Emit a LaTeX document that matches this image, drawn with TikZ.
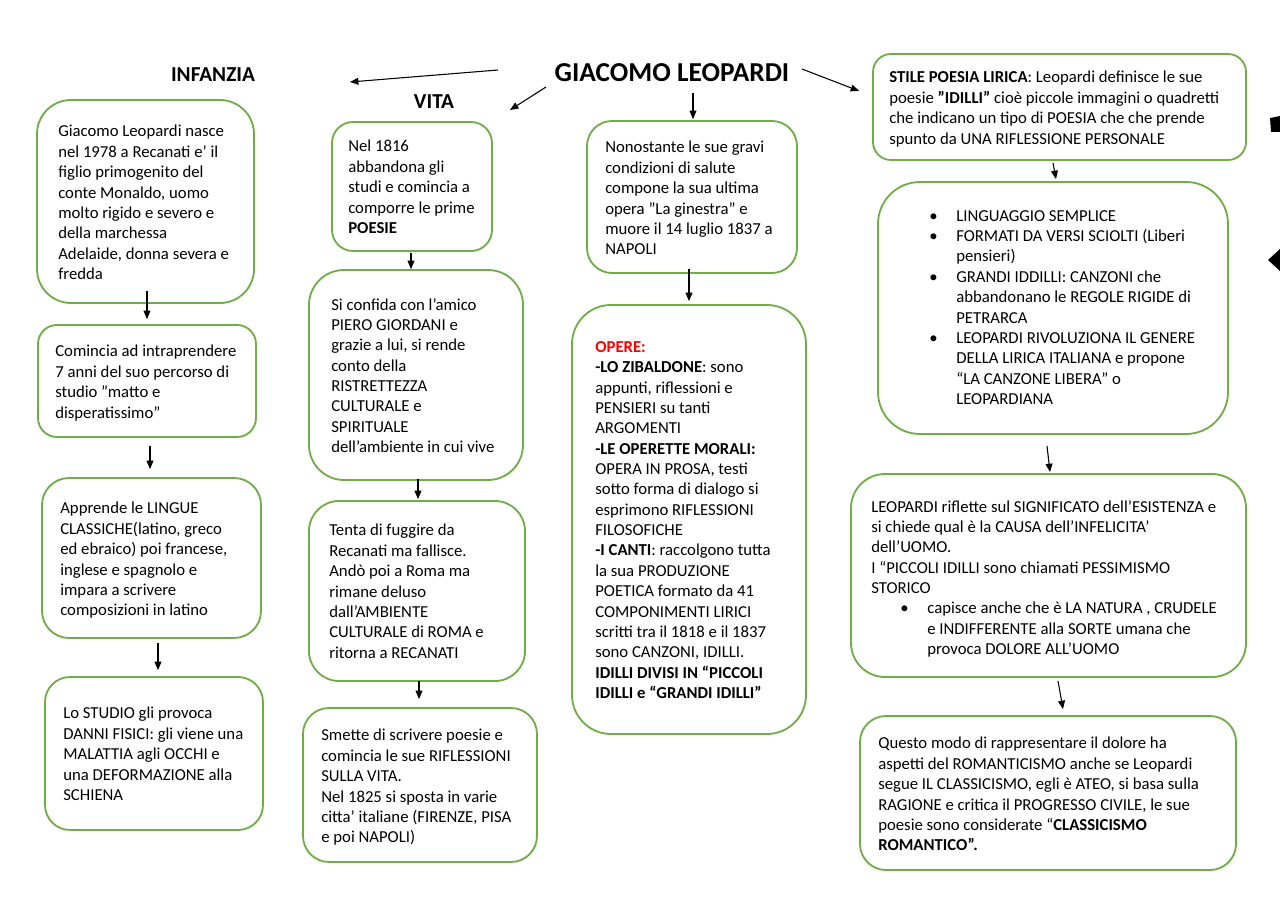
\documentclass[tikz,border=0pt]{standalone}
\usepackage{fontspec}
\setmainfont{Carlito}
\usetikzlibrary{calc,arrows.meta}
\newdimen\px \px=0.65781pt
\definecolor{gframe}{HTML}{70AD47}
\newcommand\gbox[6]{\node[box, minimum width={(#4-#2)*\px}, minimum height={(#5-#3)*\px}, rounded corners={#6*\px}] (#1) at ({(#2+#4)/2},{(#3+#5)/2}) {};}
\newcommand\bul{\makebox[27\px][l]{•}}
\newcommand\ind{\hspace*{27\px}}
\tikzset{
  box/.style={draw=gframe, line width=1.2pt, inner sep=0pt},
  txt/.style={anchor=north west, inner sep=0pt, align=left, font=\fontsize{11}{13.4}\selectfont},
  ttl/.style={font=\bfseries\fontsize{14}{16}\selectfont, inner sep=0pt},
  arr/.style={-{Triangle[length=5.5pt,width=4.5pt]}, line width=0.7pt, black},
}
\begin{document}
\begin{tikzpicture}[x=0.65781pt, y=-0.65781pt]
\fill[white] (0,0) rectangle (1280,905);
\useasboundingbox (0,0) rectangle (1280,905);

% titles
\node[font=\bfseries\fontsize{18}{21}\selectfont, inner sep=0pt] (tit) at (672,73) {GIACOMO LEOPARDI};
\node[ttl] (inf) at (213,75) {INFANZIA};
\node[ttl] (vita) at (434,102) {VITA};

% boxes
\gbox{b1}{37}{100}{254}{303}{34}
\gbox{b2}{38}{325}{256}{437}{19}
\gbox{b3}{42}{478}{261}{638}{27}
\gbox{b4}{45}{677}{263}{830}{25}
\gbox{v1}{332}{122}{492}{251}{21}
\gbox{v2}{309}{270}{523}{480}{35}
\gbox{v3}{309}{501}{525}{681}{30}
\gbox{v4}{303}{708}{537}{862}{26}
\gbox{c1}{587}{121}{797}{273}{25}
\gbox{c2}{572}{305}{806}{734}{39}
\gbox{r1}{873}{54}{1246}{160}{18}
\gbox{r2}{878}{182}{1228}{434}{42}
\gbox{r3}{851}{474}{1246}{677}{34}
\gbox{r4}{860}{716}{1236}{870}{26}

% texts
\node[txt] (tb1) at (58,125) {Giacomo Leopardi nasce\\nel 1978 a Recanati e’ il\\figlio primogenito del\\conte Monaldo, uomo\\molto rigido e severo e\\della marchessa\\Adelaide, donna severa e\\fredda};
\node[txt] (tb2) at (55,345) {Comincia ad intraprendere\\7 anni del suo percorso di\\studio ”matto e\\disperatissimo”};
\node[txt] (tb3) at (60,502) {Apprende le LINGUE\\CLASSICHE(latino, greco\\ed ebraico) poi francese,\\inglese e spagnolo e\\impara a scrivere\\composizioni in latino};
\node[txt] (tb4) at (63,707) {Lo STUDIO gli provoca\\DANNI FISICI: gli viene una\\MALATTIA agli OCCHI e\\una DEFORMAZIONE alla\\SCHIENA};
\node[txt] (tv1) at (348,140) {Nel 1816\\abbandona gli\\studi e comincia a\\comporre le prime\\\textbf{POESIE}};
\node[txt] (tv2) at (331,298) {Si confida con l’amico\\PIERO GIORDANI e\\grazie a lui, si rende\\conto della\\RISTRETTEZZA\\CULTURALE e\\SPIRITUALE\\dell’ambiente in cui vive};
\node[txt] (tv3) at (329,524) {Tenta di fuggire da\\Recanati ma fallisce.\\Andò poi a Roma ma\\rimane deluso\\dall’AMBIENTE\\CULTURALE di ROMA e\\ritorna a RECANATI};
\node[txt] (tv4) at (321,729) {Smette di scrivere poesie e\\comincia le sue RIFLESSIONI\\SULLA VITA.\\Nel 1825 si sposta in varie\\citta’ italiane (FIRENZE, PISA\\e poi NAPOLI)};
\node[txt] (tc1) at (605,141) {Nonostante le sue gravi\\condizioni di salute\\compone la sua ultima\\opera ”La ginestra” e\\muore il 14 luglio 1837 a\\NAPOLI};
\node[txt] (tc2) at (595,341) {\textcolor{red}{\textbf{OPERE:}}\\\textbf{-LO ZIBALDONE}: sono\\appunti, riflessioni e\\PENSIERI su tanti\\ARGOMENTI\\\textbf{-LE OPERETTE MORALI:}\\OPERA IN PROSA, testi\\sotto forma di dialogo si\\esprimono RIFLESSIONI\\FILOSOFICHE\\\textbf{-I CANTI}: raccolgono tutta\\la sua PRODUZIONE\\POETICA formato da 41\\COMPONIMENTI LIRICI\\scritti tra il 1818 e il 1837\\sono CANZONI, IDILLI.\\\textbf{IDILLI DIVISI IN “PICCOLI}\\\textbf{IDILLI e “GRANDI IDILLI”}};
\node[txt] (tr1) at (889,71) {\textbf{STILE POESIA LIRICA}: Leopardi definisce le sue\\poesie \textbf{”IDILLI”} cioè piccole immagini o quadretti\\che indicano un tipo di POESIA che che prende\\spunto da UNA RIFLESSIONE PERSONALE};
\node[txt] (tr2) at (929,210) {\bul LINGUAGGIO SEMPLICE\\\bul FORMATI DA VERSI SCIOLTI (Liberi\\\ind pensieri)\\\bul GRANDI IDDILLI: CANZONI che\\\ind abbandonano le REGOLE RIGIDE di\\\ind PETRARCA\\\bul LEOPARDI RIVOLUZIONA IL GENERE\\\ind DELLA LIRICA ITALIANA e propone\\\ind “LA CANZONE LIBERA” o\\\ind LEOPARDIANA};
\node[txt] (tr3) at (871,500) {LEOPARDI riflette sul SIGNIFICATO dell’ESISTENZA e\\si chiede qual è la CAUSA dell’INFELICITA’\\dell’UOMO.\\I “PICCOLI IDILLI sono chiamati PESSIMISMO\\STORICO\\\hspace*{29\px}\bul capisce anche che è LA NATURA , CRUDELE\\\hspace*{29\px}\ind e INDIFFERENTE alla SORTE umana che\\\hspace*{29\px}\ind provoca DOLORE ALL’UOMO};
\node[txt] (tr4) at (878,737) {Questo modo di rappresentare il dolore ha\\aspetti del ROMANTICISMO anche se Leopardi\\segue IL CLASSICISMO, egli è ATEO, si basa sulla\\RAGIONE e critica il PROGRESSO CIVILE, le sue\\poesie sono considerate “\textbf{CLASSICISMO}\\\textbf{ROMANTICO”.}};

% arrows from title
\draw[arr] ($(tit.center)+(-174,-3)$) -- ($(inf.center)+(137,7)$);
\draw[arr] ($(tit.center)+(-126,14)$) -- ($(vita.center)+(76,8)$);
\draw[arr] ($(tit.center)+(21,20)$) -- ($(c1.north)+(1,-1)$);
\draw[arr] ($(tit.center)+(130,-4)$) -- ($(r1.west)+(-13,-16)$);
% column arrows
\draw[arr] ($(b1.south)+(1.5,-13)$) -- ($(b2.north)+(0,-5)$);
\draw[arr] ($(b2.south)+(3,8)$) -- ($(b3.north)+(-1.5,-8)$);
\draw[arr] ($(b3.south)+(6.5,4)$) -- ($(b4.north)+(4,-6)$);
\draw[arr] ($(v1.south)+(-1,1)$) -- ($(v2.north)+(-5,0)$);
\draw[arr] ($(v2.south)+(2,-2)$) -- ($(v3.north)+(1,-1)$);
\draw[arr] ($(v3.south)+(2,-1)$) -- ($(v4.north)+(-1,-8)$);
\draw[arr] ($(c1.south)+(-3,-5)$) -- ($(c2.north)+(0,-3)$);
\draw[arr] ($(r1.south)+(-6.5,2)$) -- ($(r2.north)+(3,-2)$);
\draw[arr] ($(r2.south)+(-6,11)$) -- ($(r3.north)+(1.5,-1)$);
\draw[arr] ($(r3.south)+(9.5,3)$) -- ($(r4.north)+(15,-6)$);

% cut-off shapes at right edge
\fill[black] (1270,118) -- (1280,116) -- (1280,132) -- (1271,132) -- cycle;
\fill[black] (1268,260) -- (1280,249) -- (1280,271) -- cycle;
\end{tikzpicture}
\end{document}
